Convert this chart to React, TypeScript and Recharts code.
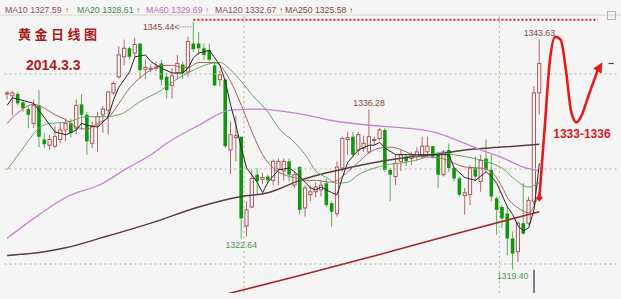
import React from 'react';
import { ComposedChart, Bar, Line, XAxis, YAxis, ReferenceLine, ReferenceDot } from 'recharts';

// daily gold candles (oldest first)
const opens = [
  1337.9, 1337.7, 1337.9, 1337.0, 1336.3, 1334.8, 1336.7, 1333.1, 1332.5, 1332.4,
  1333.1, 1334.1, 1334.8, 1334.3, 1336.8, 1335.7, 1332.7, 1334.6, 1335.7, 1336.2,
  1338.0, 1339.7, 1341.8, 1342.7, 1342.2, 1343.2, 1340.5, 1340.6, 1340.6, 1341.1,
  1339.7, 1338.8, 1340.1, 1341.0, 1340.2, 1343.2, 1343.2, 1342.7, 1342.5, 1340.9,
  1339.4, 1339.4, 1332.0, 1333.3, 1333.4, 1324.0, 1326.0, 1329.4, 1328.9, 1329.2,
  1328.8, 1330.0, 1329.8, 1330.8, 1328.3, 1330.2, 1325.9, 1327.3, 1327.6, 1327.8,
  1328.5, 1326.4, 1325.3, 1330.1, 1333.1, 1333.4, 1332.0, 1332.2, 1331.8, 1333.0,
  1333.2, 1334.1, 1329.9, 1329.2, 1330.8, 1331.3, 1331.1, 1331.3, 1331.5, 1331.8,
  1332.4, 1331.5, 1329.4, 1332.0, 1330.1, 1329.0, 1327.2, 1327.3, 1330.1, 1328.7,
  1331.1, 1329.9, 1326.9, 1326.0, 1325.3, 1322.7, 1321.3, 1324.3, 1324.3, 1326.6,
  1338.0,
];
const highs = [
  1338.2, 1338.2, 1338.1, 1337.3, 1336.6, 1337.3, 1338.3, 1333.8, 1333.6, 1334.5,
  1334.8, 1335.3, 1335.3, 1337.3, 1337.9, 1336.0, 1335.0, 1336.0, 1336.6, 1338.2,
  1339.2, 1342.9, 1343.6, 1342.9, 1343.8, 1343.2, 1341.5, 1341.0, 1341.3, 1341.5,
  1340.1, 1340.6, 1342.0, 1341.3, 1343.9, 1345.44, 1344.4, 1343.2, 1343.2, 1341.3,
  1340.4, 1339.5, 1335.0, 1335.6, 1333.4, 1326.6, 1329.9, 1330.1, 1329.6, 1329.4,
  1331.0, 1331.1, 1331.1, 1331.1, 1329.7, 1330.3, 1328.3, 1328.3, 1328.6, 1328.8,
  1329.0, 1326.6, 1330.8, 1333.4, 1333.9, 1333.9, 1333.9, 1333.5, 1336.28, 1333.4,
  1334.3, 1334.3, 1330.1, 1331.5, 1332.0, 1331.6, 1331.8, 1332.3, 1333.4, 1333.4,
  1332.4, 1331.8, 1332.0, 1332.7, 1330.2, 1329.2, 1328.0, 1330.4, 1331.3, 1331.5,
  1333.1, 1331.5, 1327.1, 1326.2, 1326.0, 1323.4, 1324.5, 1328.5, 1327.1, 1338.7,
  1343.63,
];
const lows = [
  1337.3, 1335.7, 1336.7, 1336.0, 1334.3, 1334.3, 1332.3, 1332.2, 1332.0, 1332.2,
  1332.7, 1332.9, 1333.3, 1333.6, 1334.1, 1331.5, 1332.2, 1331.8, 1333.8, 1333.6,
  1337.8, 1339.5, 1340.9, 1341.6, 1341.8, 1339.5, 1339.5, 1340.2, 1340.3, 1338.8,
  1337.4, 1337.4, 1339.4, 1339.5, 1339.7, 1342.3, 1342.0, 1341.5, 1341.3, 1338.7,
  1338.7, 1332.2, 1329.5, 1330.8, 1322.64, 1322.9, 1325.9, 1327.3, 1328.4, 1328.5,
  1328.3, 1328.3, 1328.8, 1328.7, 1328.0, 1325.2, 1325.0, 1326.6, 1327.0, 1327.1,
  1326.0, 1323.9, 1325.0, 1329.7, 1331.5, 1331.3, 1331.5, 1331.8, 1331.6, 1332.5,
  1333.0, 1329.7, 1326.6, 1328.3, 1329.8, 1330.3, 1330.4, 1330.9, 1331.1, 1331.5,
  1331.1, 1328.0, 1329.2, 1329.7, 1328.7, 1327.1, 1325.2, 1326.2, 1328.7, 1327.6,
  1329.7, 1326.6, 1323.1, 1323.8, 1320.9, 1319.4, 1320.2, 1323.1, 1324.1, 1326.2,
  1335.7,
];
const closes = [
  1338.0, 1338.0, 1336.9, 1336.4, 1335.7, 1336.7, 1333.4, 1332.6, 1333.1, 1333.4,
  1334.1, 1334.8, 1333.8, 1336.7, 1335.7, 1332.9, 1334.5, 1335.5, 1336.3, 1338.1,
  1339.0, 1342.0, 1342.7, 1341.8, 1343.1, 1340.4, 1340.7, 1340.6, 1340.7, 1339.4,
  1338.3, 1339.8, 1341.1, 1340.1, 1343.4, 1342.6, 1342.7, 1342.0, 1341.5, 1338.8,
  1339.9, 1332.4, 1333.6, 1333.5, 1324.8, 1325.7, 1329.0, 1328.7, 1329.1, 1328.8,
  1330.8, 1330.8, 1330.8, 1329.4, 1329.4, 1325.7, 1328.0, 1327.6, 1328.1, 1328.3,
  1326.2, 1325.5, 1330.2, 1333.2, 1333.3, 1331.5, 1333.6, 1332.7, 1333.4, 1333.1,
  1334.1, 1329.9, 1329.4, 1330.6, 1331.5, 1330.8, 1331.5, 1331.8, 1332.4, 1332.4,
  1331.3, 1329.4, 1331.8, 1330.1, 1329.0, 1327.3, 1327.5, 1330.1, 1329.2, 1330.9,
  1329.9, 1327.1, 1325.7, 1324.8, 1322.7, 1321.1, 1324.3, 1323.2, 1326.7, 1338.0,
  1341.1,
];

// moving averages sampled along the drawn lines: [candle index, price]
const ma5Pts = [
  [0, 1336.7], [1, 1337.5], [5, 1336.9], [7, 1335.4], [9, 1333.9], [11, 1333.6], [13, 1334.1],
  [14, 1334.8], [15, 1334.6], [17, 1334.4], [19, 1335.5], [20, 1337.3], [21, 1338.6], [23, 1340.2],
  [24, 1341.8], [26, 1342.0], [27, 1341.3], [29, 1340.6], [31, 1340.1], [33, 1340.1], [34, 1340.6],
  [35, 1341.7], [36, 1342.2], [38, 1342.5], [40, 1340.9], [41, 1339.2], [42, 1336.7], [43, 1334.6],
  [44, 1332.2], [45, 1330.1], [47, 1328.6], [48, 1327.5], [49, 1328.6], [51, 1329.9], [53, 1330.1],
  [54, 1329.7], [56, 1328.6], [57, 1328.0], [58, 1327.8], [59, 1328.1], [61, 1327.5], [62, 1327.3],
  [63, 1329.1], [64, 1330.7], [66, 1332.0], [68, 1332.5], [69, 1332.5], [70, 1332.8], [71, 1332.2],
  [73, 1331.5], [75, 1331.5], [77, 1331.5], [80, 1331.5], [83, 1331.5], [84, 1330.1], [86, 1329.1],
  [88, 1328.8], [90, 1329.7], [91, 1329.2], [92, 1328.5], [94, 1326.0], [95, 1325.2], [96, 1324.0],
  [97, 1323.5], [98, 1323.8], [99, 1325.7], [100, 1330.6],
];
const ma10Pts = [
  [0, 1334.8], [2, 1335.9], [5, 1336.8], [7, 1336.4], [9, 1335.7], [11, 1335.2], [13, 1334.4],
  [15, 1334.2], [17, 1334.8], [19, 1335.4], [21, 1336.9], [23, 1338.5], [24, 1339.1], [27, 1340.4],
  [29, 1340.9], [31, 1340.9], [33, 1340.7], [34, 1340.7], [36, 1341.2], [39, 1341.2], [40, 1340.9],
  [42, 1339.2], [44, 1336.7], [46, 1333.9], [48, 1331.5], [50, 1330.1], [52, 1329.4], [54, 1329.1],
  [56, 1328.8], [58, 1328.8], [61, 1328.6], [62, 1328.8], [64, 1329.7], [66, 1330.7], [68, 1331.7],
  [70, 1332.2], [72, 1332.3], [75, 1331.8], [77, 1331.3], [81, 1331.2], [84, 1330.6], [86, 1330.2],
  [89, 1330.1], [91, 1329.7], [93, 1328.1], [94, 1327.0], [96, 1325.9], [98, 1325.4], [100, 1327.6],
];
const ma20Pts = [
  [0, 1329.9], [3, 1332.2], [6, 1334.3], [8, 1334.8], [11, 1334.9], [15, 1335.5], [18, 1335.5],
  [21, 1335.7], [25, 1337.1], [29, 1338.3], [32, 1339.5], [35, 1340.4], [37, 1340.9], [40, 1341.2],
  [42, 1340.4], [44, 1339.2], [46, 1337.8], [49, 1336.0], [51, 1334.3], [54, 1332.8], [56, 1331.5],
  [58, 1329.8], [60, 1329.1], [62, 1328.5], [64, 1328.6], [66, 1329.4], [69, 1330.1], [71, 1330.4],
  [75, 1330.7], [78, 1331.1], [81, 1331.7], [84, 1331.5], [87, 1331.2], [91, 1330.6], [93, 1330.1],
  [95, 1329.1], [98, 1328.1], [100, 1328.6],
];
const ma60Pts = [
  [0, 1322.7], [5, 1324.8], [11, 1327.0], [18, 1328.5], [22, 1329.9], [27, 1331.5], [30, 1332.7],
  [36, 1334.6], [42, 1336.2], [47, 1336.3], [56, 1335.7], [61, 1335.1], [68, 1334.6], [75, 1334.3],
  [80, 1333.9], [86, 1332.7], [90, 1331.8], [93, 1331.2], [97, 1330.2], [100, 1329.8],
];
const ma120Pts = [
  [0, 1320.9], [7, 1321.3], [11, 1321.7], [18, 1322.8], [27, 1324.3], [36, 1326.0], [44, 1327.1],
  [49, 1327.5], [55, 1328.8], [64, 1330.1], [75, 1331.2], [80, 1331.5], [86, 1332.0], [93, 1332.3],
  [100, 1332.6],
];
const ma250Pts = [
  [41, 1316.8], [55, 1318.8], [70, 1321.0], [85, 1323.3], [100, 1325.5],
];

// hand-drawn forecast arrow
const arrowPts = [
  [100, 1326.95], [101, 1334.3], [102, 1341.5], [103, 1343.9], [104, 1343.6], [105, 1340.4],
  [106, 1336.0], [107, 1334.9], [108, 1335.7], [109, 1337.3], [110, 1338.9], [111, 1340.4],
];

const maNames = ['MA10', 'MA20', 'MA60', 'MA120', 'MA250'];
const maValues = ['1327.59', '1328.61', '1329.69', '1332.67', '1325.58'];
const gridPrices = [1340, 1330, 1320];
const monthEnds = [44, 92];
const tagsAbove = [{ i: 68, price: 1336.28 }, { i: 100, price: 1343.63 }];
const tagsBelow = [{ i: 44, price: 1322.64 }, { i: 95, price: 1319.4 }];
const topTag = { i: 35, price: 1345.44 };
const targetText = '1333-1336';
const targetAt = { i: 108, price: 1333.7 };
const resistance = 1345.7;
const lastClose = closes[closes.length - 1];

const SLOTS = 115;
const W = 621;
const H = 299;
const NUM_FONT = '"Liberation Sans", Arial, sans-serif';
const legendX = [5, 77, 146, 215, 285];
const legendArrowX = [65, 136, 205, 279, 349];
const legendColors = ['#8e4e5e', '#3e8a4e', '#b86fc4', '#8e4e5e', '#8e4242'];

const rows: any[] = Array.from({ length: SLOTS }, (_, i) => ({
  i,
  range: i < opens.length ? [lows[i], highs[i]] : null,
  o: opens[i],
  h: highs[i],
  l: lows[i],
  c: closes[i],
}));
const put = (key: string, pts: number[][]) => pts.forEach(([i, v]) => { rows[i][key] = v; });
put('ma5', ma5Pts);
put('ma10', ma10Pts);
put('ma20', ma20Pts);
put('ma60', ma60Pts);
put('ma120', ma120Pts);
put('ma250', ma250Pts);
put('arrow', arrowPts);

function Candle(props: any) {
  const { x, y, width, height, payload } = props;
  if (!payload || payload.range == null) return <g />;
  const { o, h, l, c } = payload;
  const top = Math.min(y, y + height);
  const ppu = Math.abs(height) / (h - l || 1);
  const cx = x + width / 2;
  const up = c >= o;
  const bTop = top + (h - Math.max(o, c)) * ppu;
  const bH = Math.max(Math.abs(c - o) * ppu, 1);
  return (
    <g>
      <line x1={cx} x2={cx} y1={top} y2={top + Math.abs(height)} stroke={up ? '#b06a6a' : '#5cae5c'} strokeWidth={1} />
      {up ? (
        <rect x={cx - 1.6} y={bTop} width={3.2} height={bH} fill="#fcf6f6" stroke="#a85a5a" strokeWidth={1} />
      ) : (
        <rect x={cx - 1.8} y={bTop} width={3.6} height={bH} fill="#10960f" />
      )}
    </g>
  );
}

const center = (vb: any) => ({ cx: vb.x + vb.width / 2, cy: vb.y + vb.height / 2 });

function TagAbove(props: any) {
  const { cx, cy } = center(props.viewBox);
  return <text x={cx} y={cy - 3} textAnchor="middle" fontSize={8.7} fontFamily={NUM_FONT} fill="#8a4848">{props.text}</text>;
}

function TagBelow(props: any) {
  const { cx, cy } = center(props.viewBox);
  return <text x={cx} y={cy + 9.5} textAnchor="middle" fontSize={8.7} fontFamily={NUM_FONT} fill="#4a9a4a">{props.text}</text>;
}

function TagLeft(props: any) {
  const { cx, cy } = center(props.viewBox);
  return (
    <g>
      <text x={cx - 14} y={cy + 7.5} textAnchor="end" fontSize={8.7} fontFamily={NUM_FONT} fill="#8a4848">{props.text + '<'}</text>
      <line x1={cx - 14} x2={cx - 1} y1={cy + 4.6} y2={cy + 4.6} stroke="#a06060" strokeWidth={0.8} strokeDasharray="1.5 1.2" />
    </g>
  );
}

function TargetText(props: any) {
  const { cx, cy } = center(props.viewBox);
  return <text x={cx} y={cy + 4} textAnchor="middle" fontSize={12} fontWeight={700} fontFamily={NUM_FONT} fill="#d42222">{props.text}</text>;
}

const arrowStart = arrowPts[0][0];
const arrowEnd = arrowPts[arrowPts.length - 1][0];

function ArrowDot(props: any) {
  const { cx, cy, payload, index } = props;
  if (cx == null || cy == null || !payload) return <g key={`ad${index}`} />;
  if (payload.i === arrowStart) {
    return <path key={`ad${index}`} d={`M${cx} ${cy - 3.5} L${cx + 3.5} ${cy} L${cx} ${cy + 3.5} L${cx - 3.5} ${cy} Z`} fill="#e41b1b" />;
  }
  if (payload.i === arrowEnd) {
    return <path key={`ad${index}`} transform={`translate(${cx},${cy}) rotate(-60)`} d="M9 0 L-1 -4.8 L-1 4.8 Z" fill="#e41b1b" />;
  }
  return <g key={`ad${index}`} />;
}

export default function App() {
  return (
    <div style={{ position: 'absolute', left: 0, top: 0, width: W, height: H, background: '#f5f5f5', overflow: 'hidden' }}>
      <ComposedChart width={W} height={H} data={rows} margin={{ top: 15, right: 4.5, bottom: 6, left: 4.5 }}>
        <XAxis hide dataKey="i" type="category" />
        <YAxis hide type="number" domain={[1316.95, 1346.2]} allowDataOverflow />
        {gridPrices.map((p) => (
          <ReferenceLine key={p} y={p} stroke="#bdb58c" strokeDasharray="2 3" />
        ))}
        {monthEnds.map((i) => (
          <ReferenceLine key={i} x={i} position="end" stroke="#bdb58c" strokeDasharray="2 3" />
        ))}
        <ReferenceLine
          segment={[{ x: topTag.i, y: resistance }, { x: 111, y: resistance }]}
          stroke="#e02020"
          strokeWidth={2}
          strokeDasharray="2 2"
        />
        <ReferenceLine segment={[{ x: 99, y: 1319.4 }, { x: 99, y: 1316.95 }]} stroke="#55556a" strokeWidth={1.5} />
        <ReferenceLine segment={[{ x: 113, y: lastClose }, { x: 114, y: lastClose }]} stroke="#40506a" strokeWidth={1.2} />
        <Bar dataKey="range" shape={Candle} isAnimationActive={false} />
        <Line dataKey="ma250" type="monotone" stroke="#a42a2a" strokeWidth={1.6} dot={false} connectNulls isAnimationActive={false} />
        <Line dataKey="ma120" type="monotone" stroke="#5a3c3c" strokeWidth={1.5} dot={false} connectNulls isAnimationActive={false} />
        <Line dataKey="ma60" type="monotone" stroke="#c983d2" strokeWidth={1.3} dot={false} connectNulls isAnimationActive={false} />
        <Line dataKey="ma20" type="monotone" stroke="#68a468" strokeWidth={1} dot={false} connectNulls isAnimationActive={false} />
        <Line dataKey="ma10" type="monotone" stroke="#a8665a" strokeWidth={1} dot={false} connectNulls isAnimationActive={false} />
        <Line dataKey="ma5" type="linear" stroke="#262626" strokeWidth={1} dot={false} connectNulls isAnimationActive={false} />
        <Line dataKey="arrow" type="monotone" stroke="#e41b1b" strokeWidth={2.6} dot={ArrowDot} connectNulls isAnimationActive={false} />
        <ReferenceDot x={topTag.i} y={topTag.price} r={1} fill="none" stroke="none" label={<TagLeft text={topTag.price.toFixed(2)} />} />
        {tagsAbove.map((t) => (
          <ReferenceDot key={t.i} x={t.i} y={t.price} r={1} fill="none" stroke="none" label={<TagAbove text={t.price.toFixed(2)} />} />
        ))}
        {tagsBelow.map((t) => (
          <ReferenceDot key={t.i} x={t.i} y={t.price} r={1} fill="none" stroke="none" label={<TagBelow text={t.price.toFixed(2)} />} />
        ))}
        <ReferenceDot x={targetAt.i} y={targetAt.price} r={1} fill="none" stroke="none" label={<TargetText text={targetText} />} />
      </ComposedChart>
      <svg width={W} height={H} style={{ position: 'absolute', left: 0, top: 0, pointerEvents: 'none' }}>
        <line x1={0} x2={W} y1={15} y2={15} stroke="#d6d6c6" strokeWidth={1} />
        <rect x={607.5} y={11.5} width={8} height={8} fill="none" stroke="#b8b8a8" strokeWidth={1} />
        {maNames.map((n, k) => (
          <g key={n}>
            <text x={legendX[k]} y={12.5} fontSize={8.7} fontFamily={NUM_FONT} fill={legendColors[k]}>
              {n} {maValues[k]}
            </text>
            <text x={legendArrowX[k]} y={12.5} fontSize={8} fontFamily={NUM_FONT} fill={legendColors[k]}>↑</text>
          </g>
        ))}
        <text x={18} y={39} fontSize={13} fontWeight={700} letterSpacing={3.5} fontFamily='"Noto Sans CJK SC", sans-serif' fill="#a81c1c">
          黄金日线图
        </text>
        <text x={26} y={70} fontSize={14} fontWeight={700} fontFamily={NUM_FONT} fill="#b41e1e">
          2014.3.3
        </text>
      </svg>
    </div>
  );
}
